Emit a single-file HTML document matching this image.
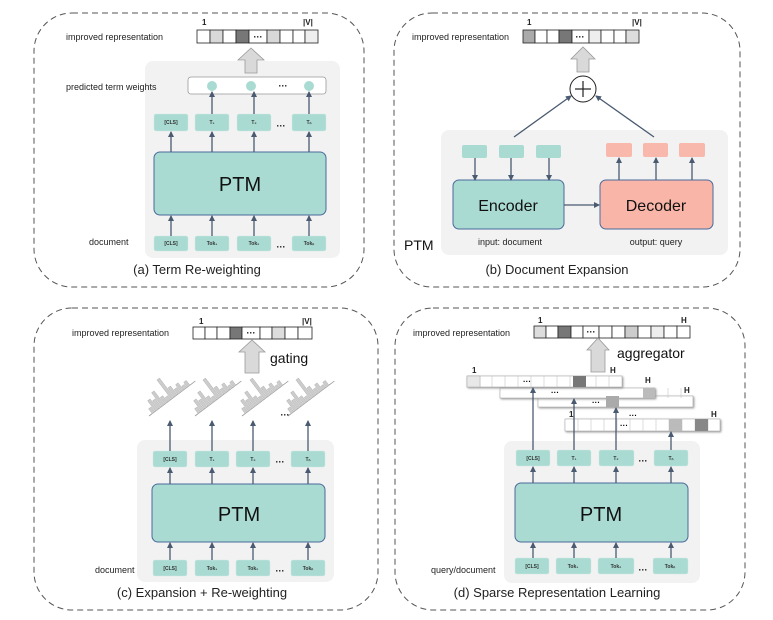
<!DOCTYPE html>
<html><head><meta charset="utf-8"><style>
html,body{margin:0;padding:0;background:#fff;}
svg{display:block;font-family:"Liberation Sans",sans-serif;}
.tk{fill:#a9dbd3;stroke:#cfe9e4;stroke-width:0.5}
.tt{font-size:5px;font-weight:bold;fill:#333;text-anchor:middle}
.lab{font-size:9px;fill:#222}
.cap{font-size:13px;fill:#222;text-anchor:middle}
.ar{stroke:#4a5a70;stroke-width:1.3;fill:none;marker-end:url(#ah)}
.cell{stroke:#222;stroke-width:0.8}
.sm{font-size:8px;font-weight:bold;fill:#222}
</style></head><body>
<svg width="773" height="620" viewBox="0 0 773 620" xmlns="http://www.w3.org/2000/svg">
<defs>
<marker id="ah" markerWidth="6" markerHeight="6" refX="5" refY="3" orient="auto" markerUnits="userSpaceOnUse"><path d="M0,0 L6,3 L0,6 z" fill="#4a5a70"/></marker>
<g id="hist">
<line x1="0" y1="0" x2="58" y2="0" stroke="#999" stroke-width="0.8"/>
<g fill="#ccc" stroke="#aaa" stroke-width="0.4">
<rect x="4" y="-6" width="3.2" height="6"/>
<rect x="8" y="-13" width="3.2" height="13"/>
<rect x="12" y="-10" width="3.2" height="10"/>
<rect x="16" y="-17" width="3.2" height="17"/>
<rect x="20" y="-8" width="3.2" height="8"/>
<rect x="24" y="-5" width="3.2" height="5"/>
<rect x="28" y="-24" width="3.2" height="24"/>
<rect x="32" y="-11" width="3.2" height="11"/>
<rect x="36" y="-6" width="3.2" height="6"/>
<rect x="40" y="-9" width="3.2" height="9"/>
<rect x="44" y="-4" width="3.2" height="4"/>
<rect x="48" y="-6" width="3.2" height="6"/>
</g>
</g>
</defs>

<!-- Panel borders -->
<rect x="34" y="13" width="330" height="274" rx="38" fill="none" stroke="#555" stroke-dasharray="6,4" stroke-width="1"/>
<rect x="394" y="13" width="346" height="274" rx="38" fill="none" stroke="#555" stroke-dasharray="6,4" stroke-width="1"/>
<rect x="34" y="308" width="344" height="302" rx="38" fill="none" stroke="#555" stroke-dasharray="6,4" stroke-width="1"/>
<rect x="395" y="308" width="350" height="302" rx="38" fill="none" stroke="#555" stroke-dasharray="6,4" stroke-width="1"/>

<!-- ===== Panel A ===== -->
<rect x="145" y="61" width="195" height="197" rx="8" fill="#f2f2f2"/>
<text x="66" y="40" class="lab">improved representation</text>
<text x="202" y="25" class="sm">1</text><text x="303" y="25" class="sm" font-weight="normal">|V|</text>
<g class="cell">
<rect x="197" y="30" width="13" height="13" fill="#fff"/><rect x="210" y="30" width="13" height="13" fill="#d8d8d8"/><rect x="223" y="30" width="13" height="13" fill="#fff"/><rect x="236" y="30" width="13" height="13" fill="#777"/><rect x="249" y="30" width="18" height="13" fill="#fff"/><rect x="267" y="30" width="13" height="13" fill="#d8d8d8"/><rect x="280" y="30" width="13" height="13" fill="#fff"/><rect x="293" y="30" width="12" height="13" fill="#fff"/><rect x="305" y="30" width="13" height="13" fill="#eee"/>
</g>
<text x="258" y="40" font-size="9" font-weight="bold" text-anchor="middle">···</text>
<path d="M245,73 V60 H238 L251,48 L264,60 H257 V73 Z" fill="#d9d9d9" stroke="#999" stroke-width="0.8"/>
<text x="66" y="90" class="lab">predicted term weights</text>
<rect x="188" y="77" width="138" height="17" rx="3" fill="#fff" stroke="#999" stroke-width="0.8"/>
<circle cx="212" cy="86" r="5" fill="#a9dbd3"/><circle cx="251" cy="86" r="5" fill="#a9dbd3"/><circle cx="309" cy="86" r="5" fill="#a9dbd3"/>
<text x="283" y="89" font-size="9" font-weight="bold" text-anchor="middle">···</text>
<rect x="154" y="114" width="34" height="17" rx="2" class="tk"/><text x="171" y="124" class="tt">[CLS]</text>
<rect x="195" y="114" width="34" height="17" rx="2" class="tk"/><text x="212" y="124" class="tt">T₁</text>
<rect x="237" y="114" width="34" height="17" rx="2" class="tk"/><text x="254" y="124" class="tt">T₂</text>
<rect x="292" y="114" width="34" height="17" rx="2" class="tk"/><text x="309" y="124" class="tt">Tₙ</text>
<text x="281" y="129" font-size="9" font-weight="bold" text-anchor="middle">···</text>
<rect x="154" y="152" width="172" height="63" rx="6" fill="#a9dbd3" stroke="#4a6a9a" stroke-width="1"/>
<text x="240" y="191" font-size="20" text-anchor="middle" fill="#111">PTM</text>
<rect x="154" y="236" width="34" height="15" rx="2" class="tk"/><text x="171" y="245" class="tt">[CLS]</text>
<rect x="195" y="236" width="34" height="15" rx="2" class="tk"/><text x="212" y="245" class="tt">Tok₁</text>
<rect x="237" y="236" width="34" height="15" rx="2" class="tk"/><text x="254" y="245" class="tt">Tok₂</text>
<rect x="292" y="236" width="34" height="15" rx="2" class="tk"/><text x="309" y="245" class="tt">Tokₙ</text>
<text x="281" y="250" font-size="9" font-weight="bold" text-anchor="middle">···</text>
<text x="89" y="245" class="lab">document</text>
<g class="ar">
<line x1="171" y1="236" x2="171" y2="216"/><line x1="212" y1="236" x2="212" y2="216"/><line x1="254" y1="236" x2="254" y2="216"/><line x1="309" y1="236" x2="309" y2="216"/>
<line x1="171" y1="152" x2="171" y2="132"/><line x1="212" y1="152" x2="212" y2="132"/><line x1="254" y1="152" x2="254" y2="132"/><line x1="309" y1="152" x2="309" y2="132"/>
<line x1="212" y1="114" x2="212" y2="92"/><line x1="254" y1="114" x2="254" y2="92"/><line x1="309" y1="114" x2="309" y2="92"/>
</g>
<text x="197" y="274" class="cap">(a) Term Re-weighting</text>

<!-- ===== Panel B ===== -->
<rect x="441" y="130" width="287" height="125" rx="8" fill="#f2f2f2"/>
<text x="412" y="40" class="lab">improved representation</text>
<text x="527" y="25" class="sm">1</text><text x="632" y="25" class="sm" font-weight="normal" fill="#8a2050">|V|</text>
<g class="cell">
<rect x="523" y="30" width="12" height="13" fill="#aaa"/><rect x="535" y="30" width="12" height="13" fill="#fff"/><rect x="547" y="30" width="12" height="13" fill="#fff"/><rect x="559" y="30" width="13" height="13" fill="#777"/><rect x="572" y="30" width="17" height="13" fill="#fff"/><rect x="589" y="30" width="12" height="13" fill="#eee"/><rect x="601" y="30" width="13" height="13" fill="#fff"/><rect x="614" y="30" width="12" height="13" fill="#fff"/><rect x="626" y="30" width="13" height="13" fill="#ddd"/>
</g>
<text x="580" y="40" font-size="9" font-weight="bold" text-anchor="middle">···</text>
<path d="M577,72 V59 H571 L583,47 L595,59 H589 V72 Z" fill="#d9d9d9" stroke="#999" stroke-width="0.8"/>
<circle cx="583" cy="89" r="13" fill="#fff" stroke="#222" stroke-width="1"/>
<line x1="575" y1="89" x2="591" y2="89" stroke="#222" stroke-width="1.2"/><line x1="583" y1="81" x2="583" y2="97" stroke="#222" stroke-width="1.2"/>
<g class="ar"><line x1="514" y1="137" x2="571" y2="96"/><line x1="654" y1="137" x2="596" y2="96"/></g>
<rect x="462" y="145" width="25" height="13" rx="2" fill="#a9dbd3"/><rect x="499" y="145" width="25" height="13" rx="2" fill="#a9dbd3"/><rect x="536" y="145" width="25" height="13" rx="2" fill="#a9dbd3"/>
<rect x="606" y="143" width="26" height="14" rx="2" fill="#f8b8ab"/><rect x="643" y="143" width="25" height="14" rx="2" fill="#f8b8ab"/><rect x="679" y="143" width="26" height="14" rx="2" fill="#f8b8ab"/>
<rect x="453" y="180" width="111" height="49" rx="6" fill="#a9dbd3" stroke="#4a6a9a" stroke-width="1"/>
<text x="508" y="211" font-size="16" text-anchor="middle" fill="#111">Encoder</text>
<rect x="600" y="180" width="113" height="49" rx="6" fill="#f8b5a8" stroke="#4a6a9a" stroke-width="1"/>
<text x="656" y="211" font-size="16" text-anchor="middle" fill="#111">Decoder</text>
<g class="ar">
<line x1="475" y1="158" x2="475" y2="180"/><line x1="511" y1="158" x2="511" y2="180"/><line x1="549" y1="158" x2="549" y2="180"/>
<line x1="619" y1="180" x2="619" y2="158"/><line x1="656" y1="180" x2="656" y2="158"/><line x1="692" y1="180" x2="692" y2="158"/>
<line x1="564" y1="205" x2="599" y2="205"/>
</g>
<text x="510" y="245" font-size="9" text-anchor="middle" fill="#222">input: document</text>
<text x="656" y="245" font-size="9" text-anchor="middle" fill="#222">output: query</text>
<text x="404" y="250" font-size="14" fill="#111">PTM</text>
<text x="557" y="274" class="cap">(b) Document Expansion</text>

<!-- ===== Panel C ===== -->
<rect x="137" y="440" width="197" height="142" rx="8" fill="#f2f2f2"/>
<text x="72" y="336" class="lab">improved representation</text>
<text x="199" y="324" class="sm">1</text><text x="302" y="324" class="sm" font-weight="normal">|V|</text>
<g class="cell">
<rect x="193" y="327" width="12" height="12" fill="#fff"/><rect x="205" y="327" width="12" height="12" fill="#fff"/><rect x="217" y="327" width="13" height="12" fill="#fff"/><rect x="230" y="327" width="12" height="12" fill="#777"/><rect x="242" y="327" width="18" height="12" fill="#fff"/><rect x="260" y="327" width="12" height="12" fill="#fff"/><rect x="272" y="327" width="13" height="12" fill="#ddd"/><rect x="285" y="327" width="13" height="12" fill="#fff"/><rect x="298" y="327" width="14" height="12" fill="#fff"/>
</g>
<text x="251" y="336" font-size="9" font-weight="bold" text-anchor="middle">···</text>
<path d="M245,373 V352 H239 L252,340 L265,352 H259 V373 Z" fill="#d9d9d9" stroke="#999" stroke-width="0.8"/>
<text x="270" y="363" font-size="14" fill="#111">gating</text>
<use href="#hist" transform="translate(149,416) rotate(-37)"/>
<use href="#hist" transform="translate(195,416) rotate(-37)"/>
<use href="#hist" transform="translate(242,416) rotate(-37)"/>
<use href="#hist" transform="translate(288,416) rotate(-37)"/>
<text x="285" y="418" font-size="9" font-weight="bold" text-anchor="middle">···</text>
<rect x="153" y="451" width="34" height="16" rx="2" class="tk"/><text x="170" y="461" class="tt">[CLS]</text>
<rect x="195" y="451" width="34" height="16" rx="2" class="tk"/><text x="212" y="461" class="tt">T₁</text>
<rect x="236" y="451" width="34" height="16" rx="2" class="tk"/><text x="253" y="461" class="tt">T₂</text>
<rect x="291" y="451" width="34" height="16" rx="2" class="tk"/><text x="308" y="461" class="tt">Tₙ</text>
<text x="280" y="465" font-size="9" font-weight="bold" text-anchor="middle">···</text>
<rect x="152" y="484" width="173" height="58" rx="6" fill="#a9dbd3" stroke="#4a6a9a" stroke-width="1"/>
<text x="239" y="521" font-size="20" text-anchor="middle" fill="#111">PTM</text>
<rect x="153" y="560" width="34" height="16" rx="2" class="tk"/><text x="170" y="570" class="tt">[CLS]</text>
<rect x="195" y="560" width="34" height="16" rx="2" class="tk"/><text x="212" y="570" class="tt">Tok₁</text>
<rect x="236" y="560" width="34" height="16" rx="2" class="tk"/><text x="253" y="570" class="tt">Tok₂</text>
<rect x="291" y="560" width="34" height="16" rx="2" class="tk"/><text x="308" y="570" class="tt">Tokₙ</text>
<text x="280" y="574" font-size="9" font-weight="bold" text-anchor="middle">···</text>
<text x="95" y="573" class="lab">document</text>
<g class="ar">
<line x1="170" y1="560" x2="170" y2="543"/><line x1="212" y1="560" x2="212" y2="543"/><line x1="253" y1="560" x2="253" y2="543"/><line x1="308" y1="560" x2="308" y2="543"/>
<line x1="170" y1="484" x2="170" y2="468"/><line x1="212" y1="484" x2="212" y2="468"/><line x1="253" y1="484" x2="253" y2="468"/><line x1="308" y1="484" x2="308" y2="468"/>
<line x1="170" y1="451" x2="170" y2="421"/><line x1="212" y1="451" x2="212" y2="421"/><line x1="253" y1="451" x2="253" y2="421"/><line x1="308" y1="451" x2="308" y2="421"/>
</g>
<text x="202" y="597" class="cap">(c) Expansion + Re-weighting</text>

<!-- ===== Panel D ===== -->
<rect x="504" y="441" width="196" height="142" rx="8" fill="#f2f2f2"/>
<text x="413" y="336" class="lab">improved representation</text>
<text x="538" y="323" class="sm">1</text><text x="681" y="323" class="sm" fill="#7a3010">H</text>
<g class="cell">
<rect x="534" y="326" width="12" height="12" fill="#ddd"/><rect x="546" y="326" width="12" height="12" fill="#fff"/><rect x="558" y="326" width="13" height="12" fill="#777"/><rect x="571" y="326" width="12" height="12" fill="#fff"/><rect x="583" y="326" width="16" height="12" fill="#fff"/><rect x="599" y="326" width="13" height="12" fill="#fff"/><rect x="612" y="326" width="13" height="12" fill="#fff"/><rect x="625" y="326" width="13" height="12" fill="#ccc"/><rect x="638" y="326" width="13" height="12" fill="#fff"/><rect x="651" y="326" width="13" height="12" fill="#eee"/><rect x="664" y="326" width="13" height="12" fill="#fff"/><rect x="677" y="326" width="13" height="12" fill="#fff"/>
</g>
<text x="591" y="335" font-size="9" font-weight="bold" text-anchor="middle">···</text>
<path d="M591,372 V350 H587 L598,338 L609,350 H605 V372 Z" fill="#d9d9d9" stroke="#999" stroke-width="0.8"/>
<text x="617" y="358" font-size="14" fill="#111">aggregator</text>
<!-- stacked vectors -->
<g stroke="#aaa" stroke-width="0.6">
<rect x="565" y="419" width="155" height="12" fill="#fff" style="filter:drop-shadow(1px 1px 1px #999)"/>
<rect x="538" y="396" width="155" height="11" fill="#fff" style="filter:drop-shadow(1px 1px 1px #999)"/>
<rect x="500" y="388" width="155" height="10" fill="#fff" style="filter:drop-shadow(1px 1px 1px #999)"/>
<rect x="467" y="376" width="155" height="11" fill="#fff" style="filter:drop-shadow(1px 1px 1px #999)"/>
</g>
<g stroke="#bbb" stroke-width="0.5">
<path d="M480,376v11M492,376v11M505,376v11M518,376v11M531,376v11M544,376v11M557,376v11M570,376v11M583,376v11M596,376v11M609,376v11"/>
<path d="M578,419v12M591,419v12M604,419v12M617,419v12M630,419v12M643,419v12M656,419v12M669,419v12M682,419v12M695,419v12M708,419v12"/>
<path d="M668,388v10M681,388v10M693,396v11"/>
</g>
<rect x="467" y="376" width="13" height="11" fill="#e8e8e8" stroke="#aaa" stroke-width="0.5"/>
<rect x="573" y="376" width="13" height="11" fill="#777"/>
<rect x="643" y="388" width="12" height="10" fill="#bbb"/>
<rect x="606" y="396" width="13" height="11" fill="#aaa"/>
<rect x="669" y="419" width="13" height="12" fill="#bbb"/>
<rect x="695" y="419" width="13" height="12" fill="#888"/>
<text x="527" y="384" font-size="8" font-weight="bold" text-anchor="middle">···</text>
<text x="555" y="395" font-size="8" font-weight="bold" text-anchor="middle">···</text>
<text x="596" y="405" font-size="8" font-weight="bold" text-anchor="middle">···</text>
<text x="624" y="428" font-size="8" font-weight="bold" text-anchor="middle">···</text>
<text x="633" y="418" font-size="8" font-weight="bold" text-anchor="middle">···</text>
<text x="472" y="373" class="sm">1</text><text x="610" y="373" class="sm" fill="#7a3010">H</text>
<text x="645" y="383" class="sm" fill="#7a3010">H</text><text x="684" y="393" class="sm" fill="#7a3010">H</text>
<text x="569" y="417" class="sm">1</text><text x="711" y="417" class="sm" fill="#7a3010">H</text>
<rect x="516" y="450" width="34" height="16" rx="2" class="tk"/><text x="533" y="460" class="tt">[CLS]</text>
<rect x="557" y="450" width="34" height="16" rx="2" class="tk"/><text x="574" y="460" class="tt">T₁</text>
<rect x="599" y="450" width="35" height="16" rx="2" class="tk"/><text x="616" y="460" class="tt">T₂</text>
<rect x="654" y="450" width="34" height="16" rx="2" class="tk"/><text x="671" y="460" class="tt">Tₙ</text>
<text x="643" y="464" font-size="9" font-weight="bold" text-anchor="middle">···</text>
<rect x="515" y="483" width="173" height="59" rx="6" fill="#a9dbd3" stroke="#4a6a9a" stroke-width="1"/>
<text x="601" y="521" font-size="20" text-anchor="middle" fill="#111">PTM</text>
<rect x="515" y="558" width="34" height="16" rx="2" class="tk"/><text x="532" y="568" class="tt">[CLS]</text>
<rect x="556" y="558" width="35" height="16" rx="2" class="tk"/><text x="573" y="568" class="tt">Tok₁</text>
<rect x="598" y="558" width="36" height="16" rx="2" class="tk"/><text x="616" y="568" class="tt">Tok₂</text>
<rect x="653" y="558" width="35" height="16" rx="2" class="tk"/><text x="670" y="568" class="tt">Tokₙ</text>
<text x="643" y="573" font-size="9" font-weight="bold" text-anchor="middle">···</text>
<text x="431" y="573" class="lab">query/document</text>
<g class="ar">
<line x1="533" y1="558" x2="533" y2="543"/><line x1="574" y1="558" x2="574" y2="543"/><line x1="616" y1="558" x2="616" y2="543"/><line x1="671" y1="558" x2="671" y2="543"/>
<line x1="533" y1="483" x2="533" y2="467"/><line x1="574" y1="483" x2="574" y2="467"/><line x1="616" y1="483" x2="616" y2="467"/><line x1="671" y1="483" x2="671" y2="467"/>
<line x1="533" y1="450" x2="533" y2="388"/><line x1="574" y1="450" x2="574" y2="399"/><line x1="616" y1="450" x2="616" y2="408"/><line x1="671" y1="450" x2="671" y2="432"/>
</g>
<text x="557" y="597" class="cap">(d) Sparse Representation Learning</text>
</svg>
</body></html>
